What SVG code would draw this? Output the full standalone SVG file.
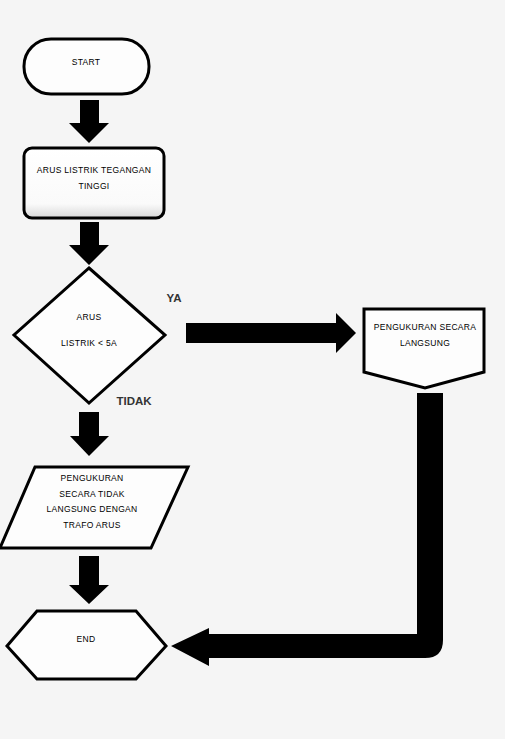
<svg xmlns="http://www.w3.org/2000/svg" width="505" height="739" viewBox="0 0 505 739">
<style>
.shape{fill:#fdfdfd;stroke:#000;stroke-width:3;stroke-linejoin:miter}
.t{font-family:"Liberation Sans",Arial,sans-serif;font-size:8.5px;fill:#000;text-anchor:middle;letter-spacing:0.3px}
.lbl{font-family:"Liberation Sans",Arial,sans-serif;font-size:11.5px;font-weight:bold;fill:#333;text-anchor:middle}
.arr{fill:#000}
</style>
<defs>
<linearGradient id="g" x1="0" y1="0" x2="0" y2="1">
<stop offset="0" stop-color="#ffffff"/>
<stop offset="0.8" stop-color="#fafafa"/>
<stop offset="1" stop-color="#d8d8d8"/>
</linearGradient>
</defs>
<rect width="505" height="739" fill="#f5f5f5"/>
<g id="start">
<rect class="shape" x="24" y="39" width="125" height="55" rx="27" ry="27"/>
<text class="t" x="86" y="65">START</text>
</g>
<g id="arus-tegangan">
<rect x="24" y="148" width="140" height="70" rx="8" ry="8" fill="url(#g)" stroke="#000" stroke-width="3"/>
<text class="t" x="94" y="173">ARUS LISTRIK TEGANGAN</text>
<text class="t" x="94" y="189">TINGGI</text>
</g>
<g id="decision">
<polygon class="shape" points="89,268 165,335 89,403 14,335"/>
<text class="t" x="89" y="320">ARUS</text>
<text class="t" x="89" y="346">LISTRIK &lt; 5A</text>
</g>
<g id="langsung">
<polygon class="shape" points="364,309 484,309 484,372 425,388 364,372"/>
<text class="t" x="425" y="330">PENGUKURAN SECARA</text>
<text class="t" x="425" y="346">LANGSUNG</text>
</g>
<g id="tidak-langsung">
<polygon class="shape" points="35,467 188,467 151,548 0,548"/>
<text class="t" x="92" y="481">PENGUKURAN</text>
<text class="t" x="92" y="497">SECARA TIDAK</text>
<text class="t" x="92" y="512">LANGSUNG DENGAN</text>
<text class="t" x="92" y="528">TRAFO ARUS</text>
</g>
<g id="end">
<polygon class="shape" points="7,646 37,611 136,611 166,646 136,679 37,679"/>
<text class="t" x="86" y="642">END</text>
</g>
<g id="connectors">
<polygon class="arr" points="80,100 99,100 99,123 109,123 89,143 69,123 80,123"/>
<polygon class="arr" points="80,222 99,222 99,245 109,245 89,265 69,245 80,245"/>
<polygon class="arr" points="186,323 336,323 336,313 356,333 336,353 336,343 186,343"/>
<polygon class="arr" points="79,412 99,412 99,436 109,436 89,456 70,436 79,436"/>
<polygon class="arr" points="79,556 99,556 99,585 109,585 89,604 69,585 79,585"/>
<path class="arr" d="M417,393 L443,393 L443,640 Q443,658 425,658 L209,658 L209,666 L171,646 L209,628 L209,634 L417,634 Z"/>
<text class="lbl" x="174" y="302">YA</text>
<text class="lbl" x="134" y="405">TIDAK</text>
</g>
</svg>
